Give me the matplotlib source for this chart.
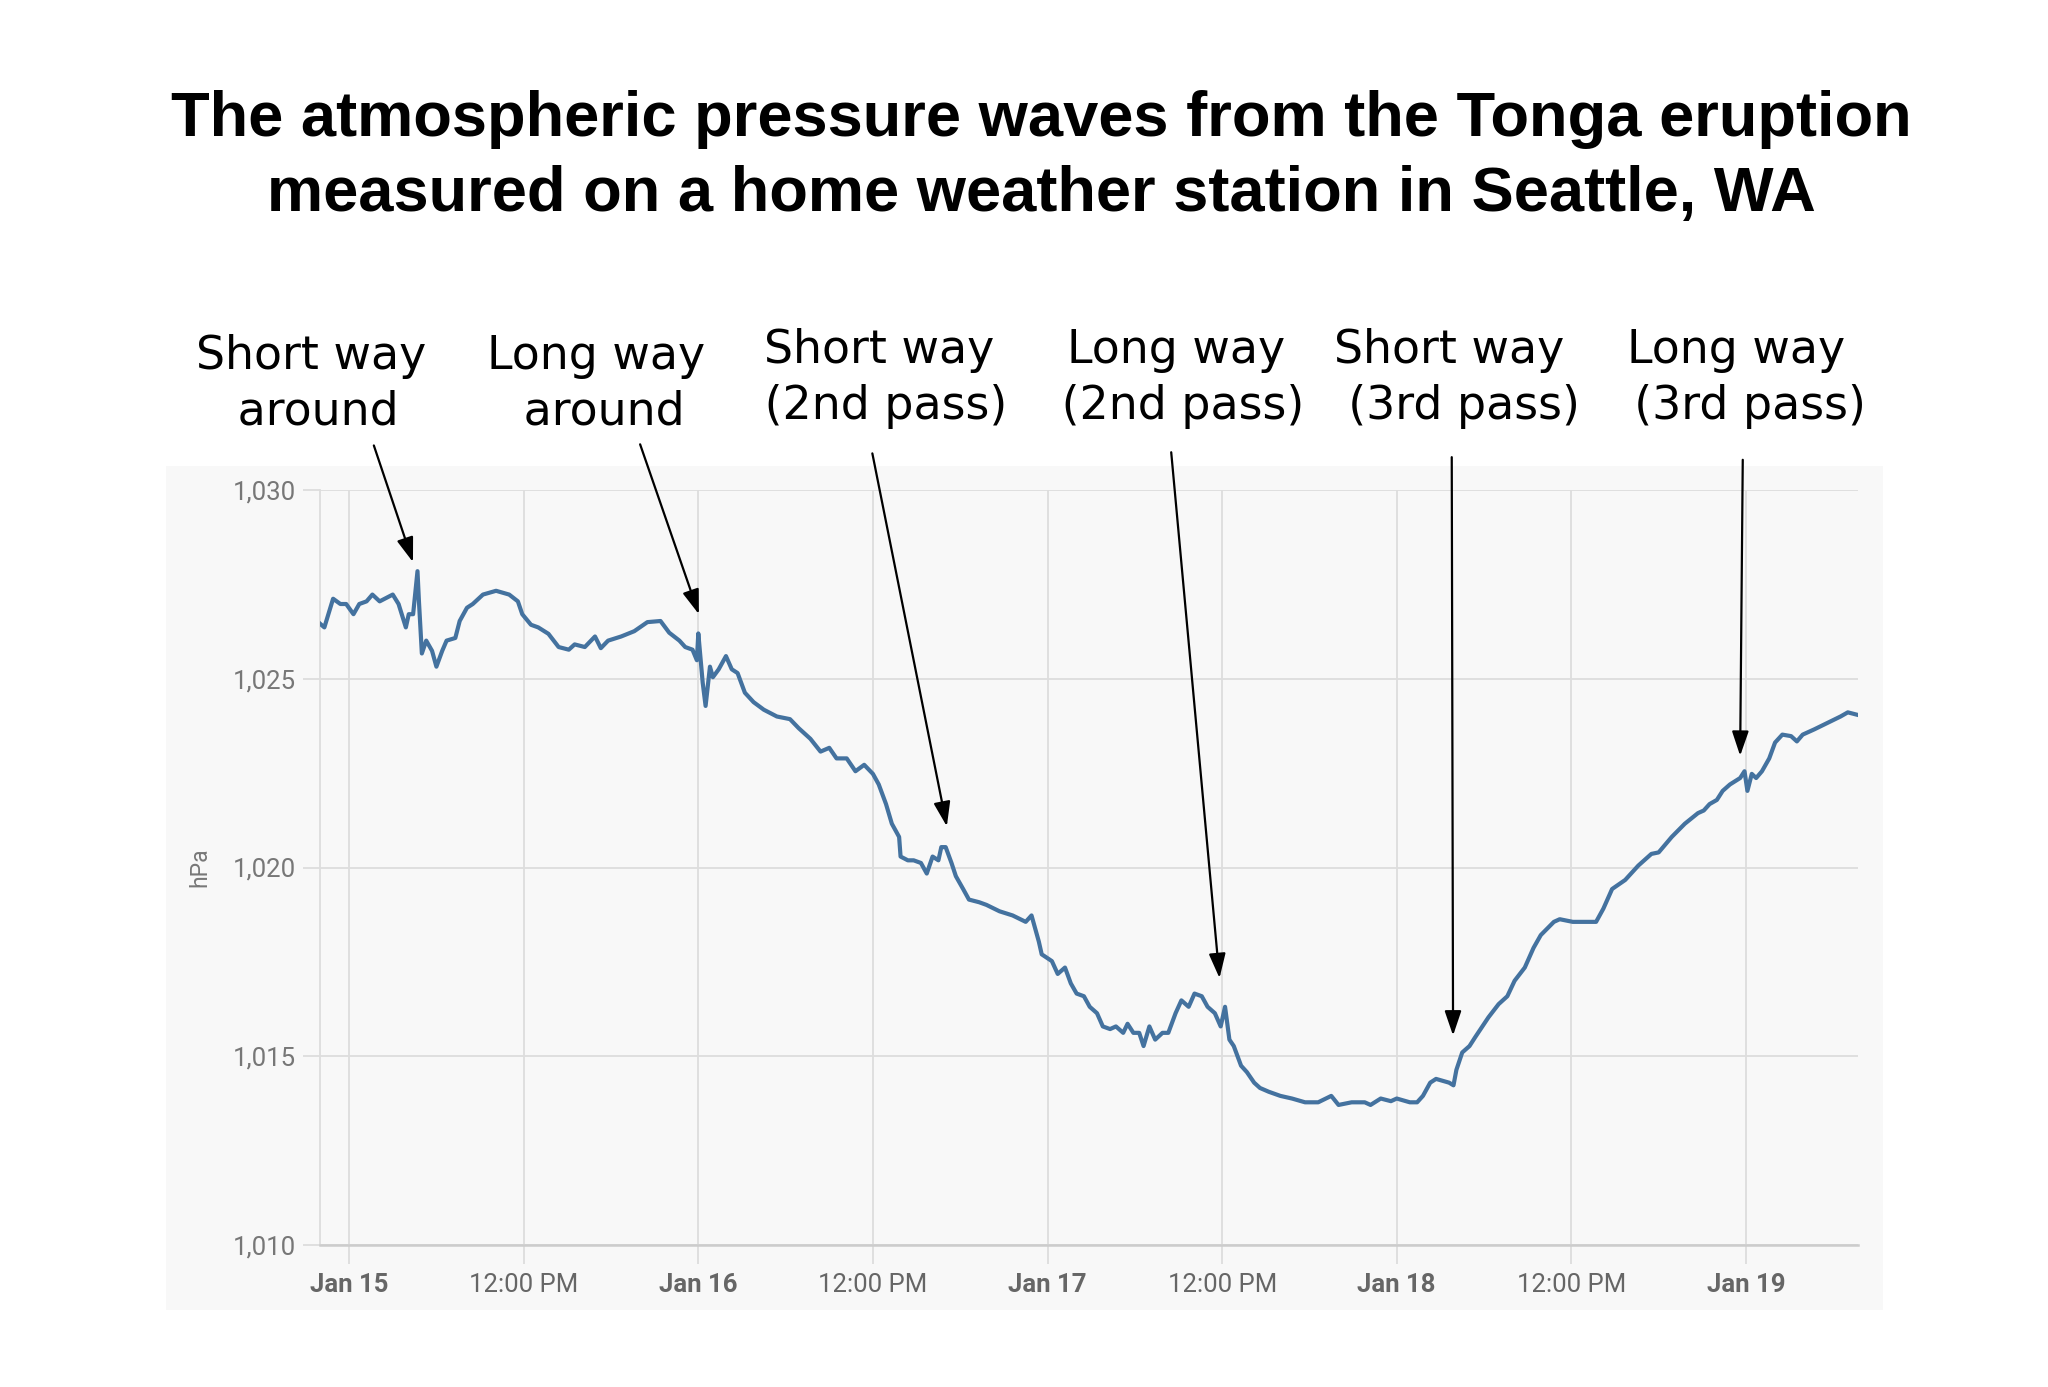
import numpy as np
import pandas as pd
import matplotlib
matplotlib.use("Agg")
import matplotlib.pyplot as plt
from matplotlib.patches import Rectangle

# hours since Jan 15 00:00 and pressure (hPa)
hours = [-2.0, -1.7, -1.1, -0.6, -0.2, 0.3, 0.7, 1.2, 1.6, 2.1, 3.0, 3.4, 3.9, 4.1, 4.4,
         4.7, 4.8, 5.0, 5.3, 5.7, 6.0, 6.4, 6.7, 7.3, 7.6, 8.1, 8.5, 9.2, 10.1, 11.0,
         11.6, 11.9, 12.5, 13.0, 13.7, 14.4, 15.1, 15.5, 16.2, 16.9, 17.3, 17.8, 18.7,
         19.6, 20.5, 21.4, 22.0, 22.7, 23.1, 23.6, 23.9, 24.0, 24.3, 24.5, 24.8, 25.0,
         25.4, 25.9, 26.3, 26.7, 27.2, 27.8, 28.5, 29.4, 30.3, 30.9, 31.7, 32.4, 33.0,
         33.5, 34.2, 34.8, 35.4, 36.0, 36.4, 36.9, 37.3, 37.8, 37.9, 38.4, 38.8, 39.3,
         39.7, 40.1, 40.5, 40.7, 41.0, 41.4, 41.7, 42.2, 42.6, 43.3, 43.8, 44.7, 45.6,
         46.5, 46.9, 47.4, 47.6, 48.3, 48.7, 49.2, 49.6, 50.0, 50.5, 50.9, 51.4, 51.8,
         52.3, 52.7, 53.2, 53.5, 53.9, 54.3, 54.6, 55.0, 55.4, 55.9, 56.3, 56.8, 57.2,
         57.7, 58.1, 58.6, 59.0, 59.5, 59.9, 60.2, 60.5, 60.8, 61.3, 61.7, 62.2, 62.6,
         63.2, 64.0, 64.8, 65.7, 66.6, 67.5, 68.0, 68.9, 69.8, 70.2, 70.9, 71.6, 72.0,
         72.9, 73.4, 73.8, 74.3, 74.7, 75.6, 75.9, 76.1, 76.5, 77.0, 77.4, 78.3, 79.0,
         79.6, 80.1, 80.8, 81.4, 81.9, 82.8, 83.2, 84.1, 85.0, 85.7, 86.2, 86.8, 87.7,
         88.6, 89.5, 90.0, 90.9, 91.8, 92.7, 93.1, 93.5, 94.0, 94.4, 94.9, 95.6, 95.9,
         96.1, 96.4, 96.7, 97.1, 97.6, 98.0, 98.5, 99.1, 99.5, 99.9, 100.7, 101.6,
         102.5, 103.0, 103.7]
pressure = [1026.46, 1026.36, 1027.12, 1026.98, 1026.98, 1026.71, 1026.98, 1027.05, 1027.23,
            1027.05, 1027.23, 1026.98, 1026.36, 1026.71, 1026.71, 1027.85, 1027.05, 1025.67,
            1026.01, 1025.74, 1025.32, 1025.74, 1026.01, 1026.08, 1026.53, 1026.88, 1026.98,
            1027.23, 1027.33, 1027.23, 1027.05, 1026.71, 1026.43, 1026.36, 1026.19, 1025.84,
            1025.77, 1025.91, 1025.84, 1026.12, 1025.81, 1026.01, 1026.12, 1026.26, 1026.50,
            1026.53, 1026.22, 1026.01, 1025.84, 1025.77, 1025.49, 1026.20, 1024.90, 1024.28,
            1025.32, 1025.04, 1025.25, 1025.60, 1025.25, 1025.15, 1024.63, 1024.38, 1024.18,
            1024.00, 1023.93, 1023.69, 1023.41, 1023.07, 1023.17, 1022.89, 1022.89, 1022.55,
            1022.72, 1022.48, 1022.20, 1021.68, 1021.16, 1020.81, 1020.29, 1020.19, 1020.19,
            1020.12, 1019.84, 1020.29, 1020.19, 1020.54, 1020.54, 1020.12, 1019.77, 1019.43,
            1019.15, 1019.08, 1019.01, 1018.84, 1018.73, 1018.56, 1018.73, 1018.04, 1017.70,
            1017.52, 1017.18, 1017.35, 1016.93, 1016.66, 1016.59, 1016.31, 1016.14, 1015.79,
            1015.72, 1015.79, 1015.62, 1015.86, 1015.62, 1015.62, 1015.27, 1015.79, 1015.44,
            1015.62, 1015.62, 1016.14, 1016.48, 1016.31, 1016.66, 1016.59, 1016.31, 1016.14,
            1015.79, 1016.31, 1015.44, 1015.27, 1014.75, 1014.58, 1014.30, 1014.16, 1014.06,
            1013.95, 1013.88, 1013.78, 1013.78, 1013.95, 1013.71, 1013.78, 1013.78, 1013.71,
            1013.88, 1013.81, 1013.88, 1013.78, 1013.78, 1013.95, 1014.30, 1014.40, 1014.30,
            1014.23, 1014.64, 1015.10, 1015.27, 1015.51, 1016.03, 1016.38, 1016.59, 1017.00,
            1017.35, 1017.87, 1018.21, 1018.56, 1018.63, 1018.56, 1018.56, 1018.56, 1018.91,
            1019.43, 1019.67, 1020.05, 1020.36, 1020.40, 1020.81, 1021.16, 1021.44, 1021.51,
            1021.68, 1021.79, 1022.03, 1022.20, 1022.37, 1022.55, 1022.03, 1022.48, 1022.37,
            1022.55, 1022.89, 1023.31, 1023.52, 1023.48, 1023.34, 1023.52, 1023.66, 1023.83,
            1024.00, 1024.11, 1024.04]

tick_hours = [0, 12, 24, 36, 48, 60, 72, 84, 96]
tick_labels = ["Jan 15", "12:00 PM", "Jan 16", "12:00 PM", "Jan 17",
               "12:00 PM", "Jan 18", "12:00 PM", "Jan 19"]
y_ticks = [1010, 1015, 1020, 1025, 1030]

# annotation texts, text anchor (hours, hPa), arrow start and arrow tip
notes = ["Short way\n around", "Long way\n around", "Short way\n (2nd pass)",
         "Long way\n (2nd pass)", "Short way\n  (3rd pass)", "Long way\n  (3rd pass)"]
note_x = [-2.6, 17.0, 36.4, 56.8, 75.6, 95.3]
note_y = [1032.8, 1032.8, 1032.95, 1032.95, 1032.95, 1032.95]
arrow_from = [(1.7, 1031.18), (20.0, 1031.21), (35.96, 1030.97),
              (56.5, 1031.0), (75.78, 1030.87), (95.78, 1030.8)]
arrow_to = [(4.39, 1028.09), (24.04, 1026.71), (41.08, 1021.09),
            (59.82, 1017.07), (75.87, 1015.55), (95.6, 1022.96)]

base = pd.Timestamp("2022-01-15")
def to_time(h):
    return base + pd.to_timedelta(h, unit="h")

times = to_time(np.array(hours))

fig = plt.figure(figsize=(20.48, 13.87), dpi=100)
fig.patch.set_facecolor("white")
# light panel behind the chart (screenshot area)
fig.patches.append(Rectangle((166 / 2048, 1 - 1310 / 1387), (1883 - 166) / 2048,
                             (1310 - 466) / 1387, transform=fig.transFigure,
                             facecolor="#f8f8f8", edgecolor="none", zorder=-10))

ax = fig.add_axes([320 / 2048, 1 - 1245 / 1387, (1858 - 320) / 2048, (1245 - 490) / 1387])
ax.set_facecolor("#f8f8f8")
ax.plot(times, pressure, color="#44729f", lw=3.0, zorder=3)

ax.set_xlim(to_time(-2.0), to_time(103.7))
ax.set_ylim(1010, 1030)
ax.set_yticks(y_ticks)
ax.set_yticklabels([f"{v:,}" for v in y_ticks], fontfamily="Roboto", fontsize=18.5, color="#777777")
ax.set_xticks([to_time(h) for h in tick_hours])
ax.set_xticklabels(tick_labels, fontfamily="Roboto", fontsize=18.5, color="#666666")
for lab in ax.get_xticklabels():
    if lab.get_text().startswith("Jan"):
        lab.set_fontweight("bold")
ax.grid(True, color="#dddddd", lw=1.3)
ax.tick_params(axis="y", length=12, width=1.3, color="#dddddd", pad=5)
ax.tick_params(axis="x", length=14, width=1.3, color="#dddddd", pad=6)
for side in ["top", "right"]:
    ax.spines[side].set_visible(False)
ax.spines["left"].set_color("#dddddd")
ax.spines["left"].set_linewidth(1.3)
ax.spines["bottom"].set_color("#cccccc")
ax.spines["bottom"].set_linewidth(1.8)
ax.set_ylabel("hPa", fontfamily="Roboto", fontsize=16.5, color="#777777", labelpad=16)

for txt, hx, vy, a0, a1 in zip(notes, note_x, note_y, arrow_from, arrow_to):
    ax.text(to_time(hx), vy, txt, ha="center", va="center", fontsize=33,
            fontfamily="DejaVu Sans", clip_on=False, linespacing=1.32)
    ax.annotate("", xy=(to_time(a1[0]), a1[1]), xytext=(to_time(a0[0]), a0[1]),
                annotation_clip=False,
                arrowprops=dict(arrowstyle="-|>,head_length=0.5,head_width=0.17",
                                mutation_scale=30, color="black", lw=1.6,
                                shrinkA=0, shrinkB=0))

fig.text(1041 / 2048, 1 - 157 / 1387,
         "The atmospheric pressure waves from the Tonga eruption\n"
         "measured on a home weather station in Seattle, WA",
         ha="center", va="center", fontsize=45.5, fontweight="bold",
         fontfamily="Liberation Sans", linespacing=1.36)

fig.savefig("out.png", dpi=100)
